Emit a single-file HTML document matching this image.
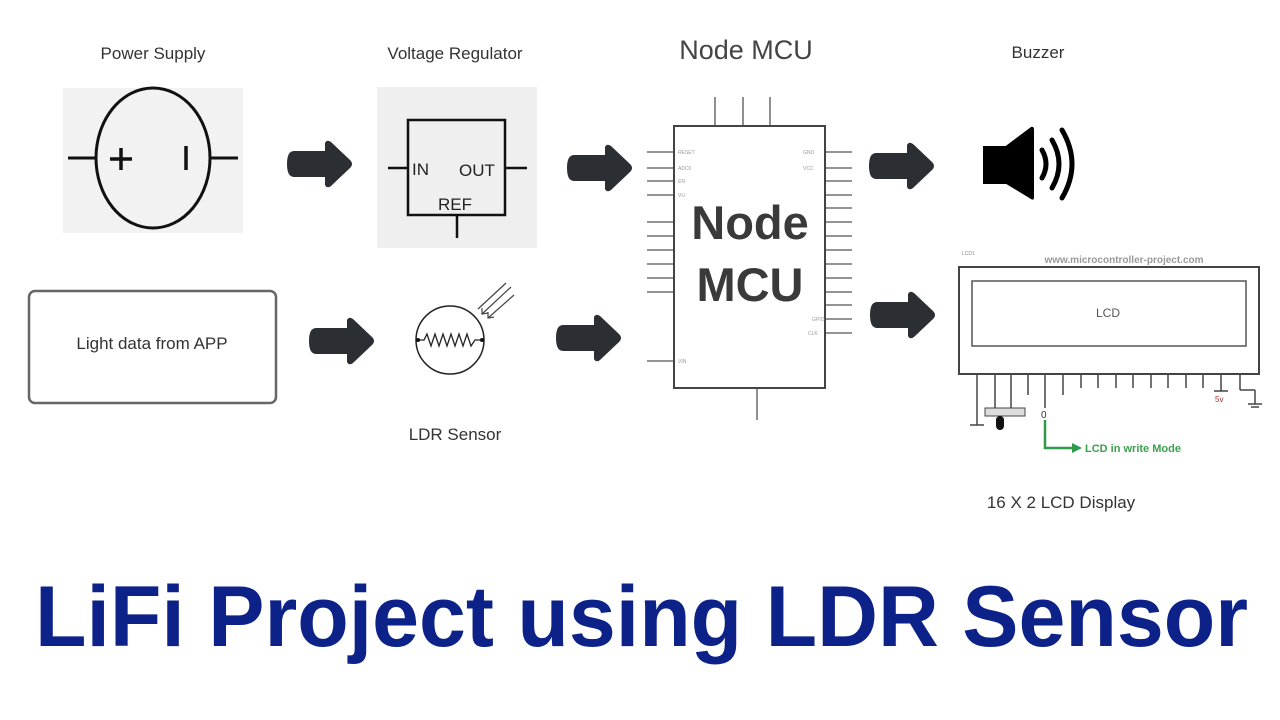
<!DOCTYPE html>
<html><head><meta charset="utf-8"><style>
html,body{margin:0;padding:0;background:#fff;}
svg{display:block;font-family:"Liberation Sans",sans-serif;}
</style></head><body>
<svg width="1280" height="720" viewBox="0 0 1280 720" xmlns="http://www.w3.org/2000/svg">
<rect width="1280" height="720" fill="#fff"/>
<defs>
<g id="arr"><path d="M7,11 H38 V3 Q40,-1 44,2 L63,20 Q67,24 63,28 L44,46 Q40,49 38,45 V37 H7 Q0,37 0,24 Q0,11 7,11Z" fill="#2b2f33"/></g>
</defs>
<!-- labels -->
<text x="153" y="59" font-size="17" fill="#333" text-anchor="middle">Power Supply</text>
<text x="455" y="59" font-size="17" fill="#333" text-anchor="middle">Voltage Regulator</text>
<text x="746" y="59" font-size="27" fill="#444" text-anchor="middle">Node MCU</text>
<text x="1038" y="58" font-size="17" fill="#333" text-anchor="middle">Buzzer</text>
<text x="455" y="440" font-size="17" fill="#333" text-anchor="middle">LDR Sensor</text>
<text x="1061" y="508" font-size="17" fill="#333" text-anchor="middle">16 X 2 LCD Display</text>

<!-- power supply -->
<rect x="63" y="88" width="180" height="145" fill="#f2f2f2"/>
<ellipse cx="153" cy="158" rx="57" ry="70" fill="none" stroke="#111" stroke-width="3"/>
<line x1="68" y1="158" x2="96" y2="158" stroke="#111" stroke-width="3"/>
<line x1="210" y1="158" x2="238" y2="158" stroke="#111" stroke-width="3"/>
<line x1="110" y1="159" x2="132" y2="159" stroke="#111" stroke-width="3.5"/>
<line x1="121" y1="148" x2="121" y2="170" stroke="#111" stroke-width="3.5"/>
<line x1="186" y1="146" x2="186" y2="170" stroke="#111" stroke-width="3.5"/>

<!-- regulator -->
<rect x="377" y="87" width="160" height="161" fill="#efefef"/>
<rect x="408" y="120" width="97" height="95" fill="none" stroke="#111" stroke-width="2.5"/>
<line x1="388" y1="168" x2="408" y2="168" stroke="#111" stroke-width="2.5"/>
<line x1="505" y1="168" x2="527" y2="168" stroke="#111" stroke-width="2.5"/>
<line x1="457" y1="215" x2="457" y2="238" stroke="#111" stroke-width="2.5"/>
<text x="412" y="175" font-size="17" fill="#222">IN</text>
<text x="459" y="176" font-size="17" fill="#222">OUT</text>
<text x="438" y="210" font-size="17" fill="#222">REF</text>

<!-- arrows -->
<use href="#arr" transform="translate(287,140)"/>
<use href="#arr" transform="translate(567,144)"/>
<use href="#arr" transform="translate(869,142)"/>
<use href="#arr" transform="translate(309,317)"/>
<use href="#arr" transform="translate(556,314)"/>
<use href="#arr" transform="translate(870,291)"/>

<!-- light data box -->
<rect x="29" y="291" width="247" height="112" rx="6" fill="#fff" stroke="#666" stroke-width="2.5"/>
<text x="152" y="349" font-size="17" fill="#333" text-anchor="middle">Light data from APP</text>

<!-- LDR -->
<circle cx="450" cy="340" r="34" fill="none" stroke="#222" stroke-width="1.5"/>
<polyline points="418,340 424,340 427,334 431,346 435,334 439,346 443,334 447,346 451,334 455,346 459,334 463,346 467,334 471,346 475,340 482,340" fill="none" stroke="#222" stroke-width="1.3"/>
<circle cx="418" cy="340" r="2" fill="#111"/><circle cx="482" cy="340" r="2" fill="#111"/>
<g stroke="#444" stroke-width="1.2" fill="none">
<line x1="511" y1="287" x2="482" y2="314"/><line x1="514" y1="295" x2="488" y2="318"/><line x1="506" y1="283" x2="478" y2="309"/>
<polyline points="482,308 482,314 488,313"/><polyline points="488,312 488,318 494,317"/>
</g>

<!-- Node MCU -->
<g stroke="#555" stroke-width="1.3">
<line x1="715" y1="97" x2="715" y2="126"/><line x1="743" y1="97" x2="743" y2="126"/><line x1="770" y1="97" x2="770" y2="126"/>
<line x1="757" y1="388" x2="757" y2="420"/>
<line x1="647" y1="152" x2="674" y2="152"/><line x1="647" y1="168" x2="674" y2="168"/><line x1="647" y1="181" x2="674" y2="181"/><line x1="647" y1="195" x2="674" y2="195"/>
<line x1="647" y1="222" x2="674" y2="222"/><line x1="647" y1="236" x2="674" y2="236"/><line x1="647" y1="250" x2="674" y2="250"/><line x1="647" y1="264" x2="674" y2="264"/><line x1="647" y1="278" x2="674" y2="278"/><line x1="647" y1="292" x2="674" y2="292"/>
<line x1="647" y1="361" x2="674" y2="361"/>
<line x1="825" y1="152" x2="852" y2="152"/><line x1="825" y1="168" x2="852" y2="168"/><line x1="825" y1="181" x2="852" y2="181"/><line x1="825" y1="195" x2="852" y2="195"/><line x1="825" y1="208" x2="852" y2="208"/><line x1="825" y1="222" x2="852" y2="222"/><line x1="825" y1="236" x2="852" y2="236"/><line x1="825" y1="250" x2="852" y2="250"/><line x1="825" y1="264" x2="852" y2="264"/><line x1="825" y1="278" x2="852" y2="278"/><line x1="825" y1="292" x2="852" y2="292"/><line x1="825" y1="305" x2="852" y2="305"/><line x1="825" y1="319" x2="852" y2="319"/><line x1="825" y1="333" x2="852" y2="333"/>
</g>
<rect x="674" y="126" width="151" height="262" fill="none" stroke="#444" stroke-width="2"/>
<g font-size="5" fill="#999">
<text x="678" y="154">RESET</text><text x="678" y="170">ADC0</text><text x="678" y="183">EN</text><text x="678" y="197">VU</text>
<text x="803" y="154">GND</text><text x="803" y="170">VCC</text><text x="812" y="321">GPIO</text><text x="808" y="335">CLK</text>
<text x="678" y="363">VIN</text>
</g>
<text x="750" y="239" font-size="47" font-weight="bold" fill="#3a3a3a" text-anchor="middle">Node</text>
<text x="750" y="301" font-size="47" font-weight="bold" fill="#3a3a3a" text-anchor="middle">MCU</text>

<!-- speaker -->
<rect x="983" y="146" width="23" height="38" fill="#000"/>
<path d="M1003,148 L1031,127 Q1034,126 1034,130 V197 Q1034,201 1031,199 L1003,182Z" fill="#000"/>
<g fill="none" stroke="#000" stroke-width="5" stroke-linecap="round">
<path d="M1042,150 Q1050,164 1042,178"/>
<path d="M1052,140 Q1066,164 1052,188"/>
<path d="M1062,130 Q1082,164 1062,198"/>
</g>

<!-- LCD -->
<text x="962" y="255" font-size="5" fill="#888">LCD1</text>
<text x="1124" y="263" font-size="10" fill="#999" text-anchor="middle" font-weight="bold">www.microcontroller-project.com</text>
<rect x="959" y="267" width="300" height="107" fill="none" stroke="#444" stroke-width="2"/>
<rect x="972" y="281" width="274" height="65" fill="none" stroke="#555" stroke-width="1.5"/>
<text x="1108" y="317" font-size="12" fill="#555" text-anchor="middle">LCD</text>
<g stroke="#444" stroke-width="1.5">
<line x1="977" y1="374" x2="977" y2="425"/><line x1="995" y1="374" x2="995" y2="410"/><line x1="1011" y1="374" x2="1011" y2="410"/><line x1="1028" y1="374" x2="1028" y2="395"/><line x1="1045" y1="374" x2="1045" y2="408"/>
<line x1="1063" y1="374" x2="1063" y2="395"/><line x1="1081" y1="374" x2="1081" y2="388"/><line x1="1098" y1="374" x2="1098" y2="388"/><line x1="1116" y1="374" x2="1116" y2="388"/><line x1="1133" y1="374" x2="1133" y2="388"/><line x1="1151" y1="374" x2="1151" y2="388"/><line x1="1168" y1="374" x2="1168" y2="388"/><line x1="1186" y1="374" x2="1186" y2="388"/><line x1="1203" y1="374" x2="1203" y2="388"/><line x1="1221" y1="374" x2="1221" y2="391"/>
<line x1="1240" y1="374" x2="1240" y2="390"/><line x1="1240" y1="390" x2="1255" y2="390"/><line x1="1255" y1="390" x2="1255" y2="404"/>
<line x1="1248" y1="404" x2="1262" y2="404"/><line x1="1251" y1="407" x2="1259" y2="407"/>
<line x1="970" y1="425" x2="984" y2="425"/><line x1="1214" y1="391" x2="1228" y2="391"/>
</g>
<rect x="985" y="408" width="40" height="8" fill="#ddd" stroke="#444"/>
<rect x="996" y="416" width="8" height="14" rx="4" fill="#111"/>
<text x="1215" y="402" font-size="8" fill="#a33">5v</text>
<text x="1041" y="418" font-size="10" fill="#333">0</text>
<polyline points="1045,420 1045,448 1075,448" fill="none" stroke="#2e9a4a" stroke-width="2.5"/>
<polygon points="1072,443 1082,448 1072,453" fill="#2e9a4a"/>
<text x="1085" y="452" font-size="11" font-weight="bold" fill="#3aa04f">LCD in write Mode</text>

<!-- title -->
<text x="35" y="646" font-size="86" font-weight="bold" fill="#0d2289" textLength="1213" lengthAdjust="spacingAndGlyphs">LiFi Project using LDR Sensor</text>
</svg>
</body></html>
